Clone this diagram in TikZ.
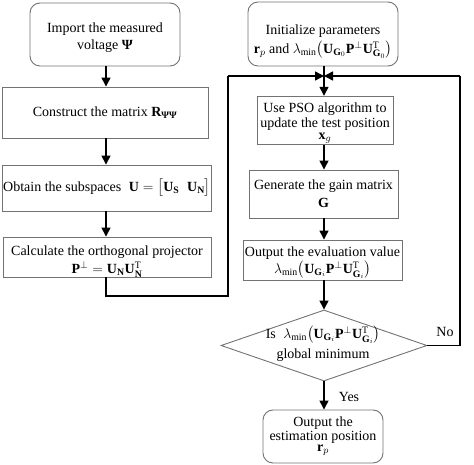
\documentclass[tikz,border=0pt]{standalone}
\usepackage{fix-cm}
\usepackage{amsmath}
\usepackage{fontspec}
\setmainfont{Liberation Serif}
\usetikzlibrary{shapes.geometric,arrows.meta}
\newcommand\topgap[1]{\rule{0pt}{#1}}
\begin{document}
\begin{tikzpicture}[x=1pt,y=-1pt,
  every node/.style={font=\fontsize{14}{16}\selectfont},
  procbox/.style={draw=black!55,line width=0.9pt,fill=white,align=center,inner sep=1pt},
  termbox/.style={procbox,rounded corners=10pt},
  flow/.style={line width=1.4pt,-{Triangle[length=9pt,width=9pt]}},
  plain/.style={line width=1.4pt}]
\useasboundingbox (0,0) rectangle (474,465);
% left column
\node[termbox,minimum width=150,minimum height=63] (a1) at (105,34.5)
  {\topgap{15.5pt}Import the measured\\[1pt]voltage \textbf{Ψ}};
\node[procbox,minimum width=206,minimum height=51] (a2) at (105,112.5)
  {Construct the matrix $\mathbf{R}_{\text{\bfseries ΨΨ}}$};
\node[procbox,minimum width=204,minimum height=46] (a3) at (107,188)
  {Obtain the subspaces\; $\mathbf{U}=\bigl[\mathbf{U}_{\mathbf{S}}\;\;\mathbf{U}_{\mathbf{N}}\bigr]$};
\node[procbox,minimum width=208,minimum height=40] (a4) at (107,257)
  {\topgap{15.5pt}Calculate the orthogonal projector\\[2pt]\smash{$\mathbf{P}^{\perp}=\mathbf{U}_{\mathbf{N}}\mathbf{U}_{\mathbf{N}}^{\mathrm{T}}$}};
% right column
\node[termbox,minimum width=150,minimum height=64] (b1) at (323,34)
  {\topgap{19.5pt}Initialize parameters\\[3pt]\smash{$\mathbf{r}_p$ and $\lambda_{\min}\bigl(\mathbf{U}_{\mathbf{G}_0}\mathbf{P}^{\perp}\mathbf{U}_{\mathbf{G}_0}^{\mathrm{T}}\bigr)$}};
\node[procbox,minimum width=136,minimum height=45] (b2) at (325,120.5)
  {\topgap{15.5pt}Use PSO algorithm to\\[-1pt]update the test position\\[-4pt]$\mathbf{x}_g$};
\node[procbox,minimum width=149,minimum height=48] (b3) at (323.5,194)
  {Generate the gain matrix\\[2pt]$\mathbf{G}$};
\node[procbox,minimum width=159,minimum height=40] (b4) at (322.5,260)
  {Output the evaluation value\\[1pt]\smash{$\lambda_{\min}\bigl(\mathbf{U}_{\mathbf{G}_i}\mathbf{P}^{\perp}\mathbf{U}_{\mathbf{G}_i}^{\mathrm{T}}\bigr)$}};
\node[diamond,draw=black!55,line width=0.9pt,minimum width=206,minimum height=71,inner sep=0pt] (d) at (324,345.5) {};
\node[align=center] (dt) at (323,350)
  {\smash{Is\; $\lambda_{\min}\bigl(\mathbf{U}_{\mathbf{G}_i}\mathbf{P}^{\perp}\mathbf{U}_{\mathbf{G}_i}^{\mathrm{T}}\bigr)$}\\[4pt]global minimum};
\node[termbox,minimum width=120,minimum height=53] (b5) at (323,436.5)
  {Output the\\[-2pt]estimation position\\[-5pt]$\mathbf{r}_p$};
\node (no) at (445,332) {No};
\node (yes) at (349,397) {Yes};
% junction and corners
\coordinate (J) at (324,76);
\coordinate (L1) at (106,296);
\coordinate (L2) at (228,296);
\coordinate (L3) at (228,76);
\coordinate (R1) at (460,345.5);
\coordinate (R2) at (460,76);
% connectors
\draw[flow] (a1.south -| 106,0) -- (a2.north -| 106,0);
\draw[flow] (a2.south -| 106,0) -- (a3.north -| 106,0);
\draw[flow] (a3.south -| 106,0) -- (a4.north -| 106,0);
\draw[plain] (a4.south -| L1) -- (L1) -- (L2) -- (L3);
\draw[flow] (L3) -- (J);
\draw[plain] (b1.south -| J) -- (J);
\draw[flow] (J) -- (b2.north -| J);
\draw[flow] (b2.south -| J) -- (b3.north -| J);
\draw[flow] (b3.south -| J) -- (b4.north -| J);
\draw[flow] (b4.south -| J) -- (d.north);
\draw[flow] (d.south) -- (b5.north -| d.south);
\draw[plain] (d.east) -- (R1) -- (R2);
\draw[flow] (R2) -- (J);
\end{tikzpicture}
\end{document}
